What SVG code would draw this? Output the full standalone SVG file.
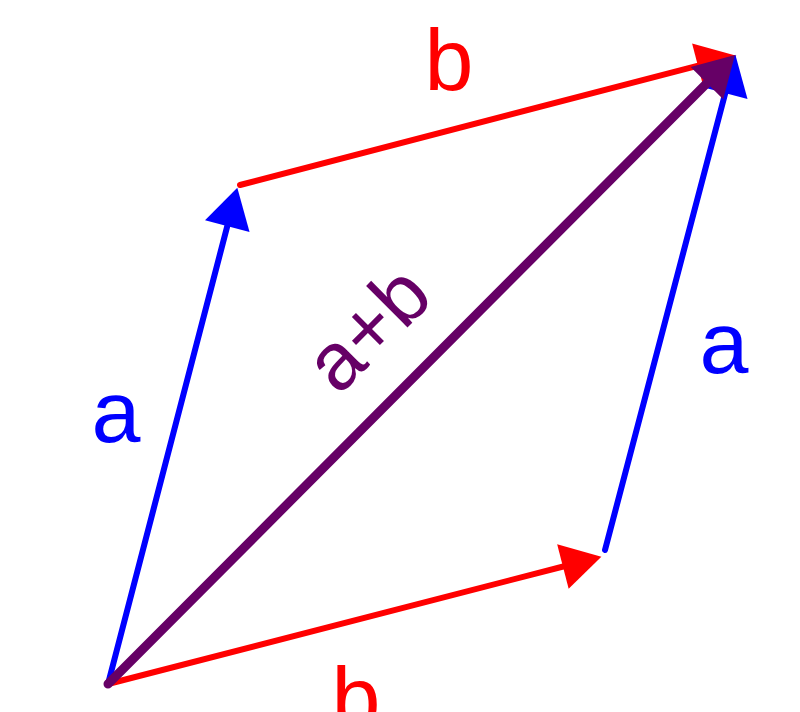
<svg xmlns="http://www.w3.org/2000/svg" width="800" height="712" viewBox="0 0 800 712">
<style>
.lbl{font-family:"Liberation Sans",Arial,sans-serif;font-size:88px;text-anchor:middle}
.red{stroke:#ff0000;stroke-width:6;fill:none;stroke-linecap:round}
.blue{stroke:#0000ff;stroke-width:6;fill:none;stroke-linecap:round}
.pur{stroke:#660066;stroke-width:9;fill:none;stroke-linecap:round}
</style>
<defs>
<marker id="ahR" markerUnits="userSpaceOnUse" markerWidth="40" markerHeight="46" refX="8" refY="22" orient="auto" viewBox="0 0 38 44" overflow="visible"><path d="M0,0 L38,22 L0,44 z" fill="#ff0000"/></marker>
<marker id="ahB" markerUnits="userSpaceOnUse" markerWidth="40" markerHeight="46" refX="8" refY="22" orient="auto" viewBox="0 0 38 44" overflow="visible"><path d="M0,0 L38,22 L0,44 z" fill="#0000ff"/></marker>
<marker id="ahP" markerUnits="userSpaceOnUse" markerWidth="40" markerHeight="46" refX="8" refY="22" orient="auto" viewBox="0 0 38 44" overflow="visible"><path d="M0,0 L38,22 L0,44 z" fill="#660066"/></marker>
</defs>
<rect width="800" height="712" fill="#ffffff"/>
<g id="connectors">
<line id="b-bottom" class="red" x1="108" y1="684" x2="571" y2="564.5" marker-end="url(#ahR)"/>
<line id="b-top" class="red" x1="240" y1="185" x2="706" y2="63.6" marker-end="url(#ahR)"/>
<line id="a-left" class="blue" x1="108" y1="684" x2="229.4" y2="218" marker-end="url(#ahB)"/>
<line id="a-right" class="blue" x1="605" y1="550" x2="727.4" y2="85" marker-end="url(#ahB)"/>
<line id="a-plus-b" class="pur" x1="108" y1="684" x2="712.8" y2="77.2" marker-end="url(#ahP)"/>
</g>
<g id="label-b-top"><text class="lbl" x="449" y="90" fill="#ff0000">b</text></g>
<g id="label-b-bottom"><text class="lbl" x="356" y="728" fill="#ff0000">b</text></g>
<g id="label-a-left"><text class="lbl" x="116" y="442" fill="#0000ff">a</text></g>
<g id="label-a-right"><text class="lbl" x="724" y="373" fill="#0000ff">a</text></g>
<g id="label-a-plus-b"><text class="lbl" x="387" y="348" fill="#660066" font-size="81" style="font-size:81px" transform="rotate(-45 387 348)">a+b</text></g>
</svg>
